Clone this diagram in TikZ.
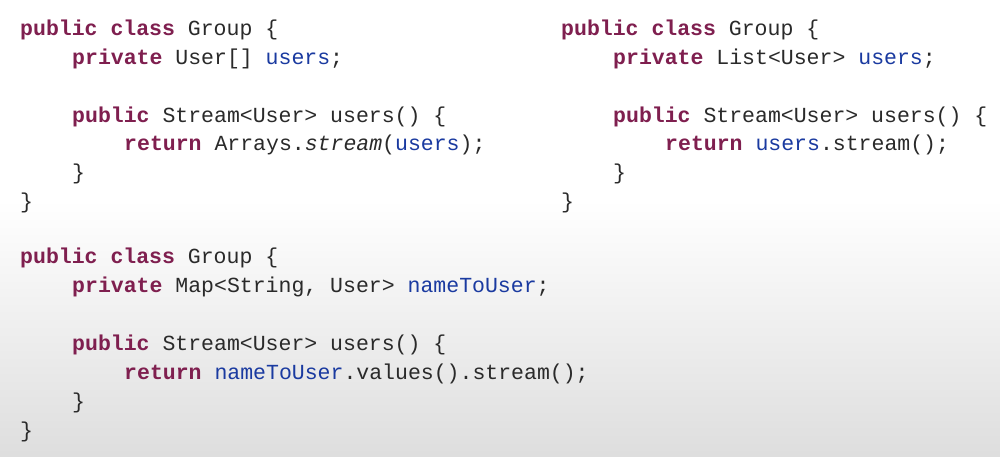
\documentclass[tikz,border=0pt]{standalone}
\usepackage{fontspec}
\setmonofont{Liberation Mono}
\definecolor{kwc}{HTML}{7F1F4F}
\definecolor{fdc}{HTML}{1A3AA0}
\definecolor{txc}{HTML}{2A2A2A}
\newcommand{\kw}[1]{\textcolor{kwc}{\bfseries #1}}
\newcommand{\fd}[1]{\textcolor{fdc}{#1}}
\begin{document}
\begin{tikzpicture}[x=1pt,y=-1pt,
  code/.style={anchor=west,inner sep=0pt,font=\ttfamily\fontsize{21.5}{24}\selectfont,text=txc}]
\shade[top color=white,bottom color=white,middle color=white] (0,0) rectangle (1000,200);
\shade[top color=white,bottom color=black!13] (0,200) rectangle (1000,456);
\useasboundingbox (0,0) rectangle (1000,456);
% block 1
\node[code] (a1) at (20,30) {\kw{public class} Group \{};
\node[code] (a2) at (72,59) {\kw{private} User[] \fd{users};};
\node[code] (a3) at (72,117) {\kw{public} Stream<User> users() \{};
\node[code] (a4) at (124,145) {\kw{return} Arrays.\textit{stream}(\fd{users});};
\node[code] (a5) at (72,174) {\}};
\node[code] (a6) at (20,203) {\}};
% block 2
\node[code] (b1) at (561,30) {\kw{public class} Group \{};
\node[code] (b2) at (613,59) {\kw{private} List<User> \fd{users};};
\node[code] (b3) at (613,117) {\kw{public} Stream<User> users() \{};
\node[code] (b4) at (665,145) {\kw{return} \fd{users}.stream();};
\node[code] (b5) at (613,174) {\}};
\node[code] (b6) at (561,203) {\}};
% block 3
\node[code] (c1) at (20,258) {\kw{public class} Group \{};
\node[code] (c2) at (72,287) {\kw{private} Map<String, User> \fd{nameToUser};};
\node[code] (c3) at (72,345) {\kw{public} Stream<User> users() \{};
\node[code] (c4) at (124,374) {\kw{return} \fd{nameToUser}.values().stream();};
\node[code] (c5) at (72,403) {\}};
\node[code] (c6) at (20,432) {\}};
\end{tikzpicture}
\end{document}
